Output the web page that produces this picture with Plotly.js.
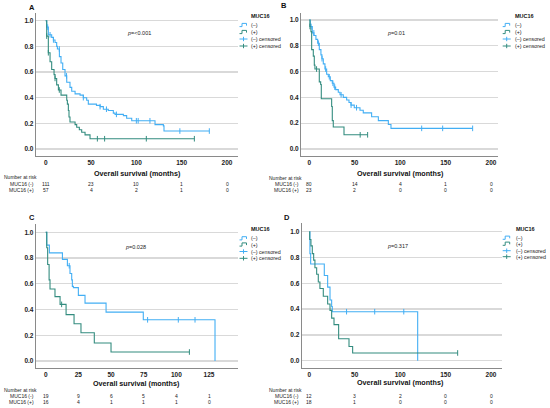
<!DOCTYPE html>
<html>
<head>
<meta charset="utf-8">
<script src="https://cdn.plot.ly/plotly-3.0.1.min.js"></script>
<style>html,body{margin:0;padding:0;background:#fff;}#chart{width:550px;height:408px;}</style>
</head>
<body>
<div id="chart"></div>
<script>
// ---------------- DATA ----------------
const groupTitle = "MUC16";
const legendLabels = ["(\u2013)", "(+)", "(\u2013) censored", "(+) censored"];
const riskRowLabels = ["MUC16 (-)", "MUC16 (+)"];
const riskHeader = "Number at risk";
const xTitle = "Overall survival (months)";
const panelLetters = ["A", "B", "C", "D"];
const pValues = ["=&lt;0.001", "=0.01", "=0.028", "=0.317"];

// Panel A
const aNegT = [0, 1.1, 2.9, 6.6, 8.5, 10.3, 12.1, 12.9, 15.1, 16.9, 18.8, 21.3, 23.2, 26.8, 28.7, 32.4, 37.9, 41.5, 45.2, 47, 56, 60, 63.6, 69, 74.6, 76.5, 85.7, 89.3, 94.9, 120.6, 129.8, 130.5, 180.5];
const aNegS = [1.0, 0.95, 0.89, 0.87, 0.85, 0.83, 0.80, 0.78, 0.72, 0.67, 0.62, 0.57, 0.52, 0.48, 0.45, 0.43, 0.42, 0.40, 0.38, 0.35, 0.34, 0.33, 0.31, 0.30, 0.28, 0.27, 0.26, 0.24, 0.22, 0.19, 0.18, 0.14, 0.14];
const aPosT = [0, 1.1, 2.9, 4.8, 6.6, 9.2, 10.3, 12.1, 14, 16.9, 23.2, 23.9, 25, 25.7, 26.8, 32.4, 34.2, 37.1, 39.7, 43.4, 48.9, 164];
const aPosS = [1.0, 0.88, 0.75, 0.68, 0.62, 0.58, 0.55, 0.50, 0.46, 0.42, 0.38, 0.35, 0.30, 0.25, 0.21, 0.19, 0.17, 0.15, 0.13, 0.11, 0.08, 0.08];
const aNegCens = [2.2, 4.8, 8.5, 15, 23, 41.5, 60, 67, 78, 100, 102, 115, 148, 180.5];
const aPosCens = [1.1, 2.9, 10.3, 15, 57, 65, 111, 164];
const aTicks = [0, 50, 100, 150, 200];
const aRiskNeg = [111, 23, 10, 1, 0];
const aRiskPos = [57, 4, 2, 1, 0];

// Panel B
const bNegT = [0, 1.1, 3.3, 5.1, 7.3, 9.2, 11, 12.8, 13.9, 15.4, 17.2, 19.1, 20.9, 23.1, 25.3, 27.2, 29, 31.9, 33.8, 37.4, 41.1, 43.7, 45.9, 49.5, 55.8, 59.4, 68.6, 76, 87, 89.9, 179.8];
const bNegS = [1.0, 0.95, 0.90, 0.88, 0.85, 0.82, 0.77, 0.73, 0.70, 0.66, 0.62, 0.58, 0.56, 0.53, 0.51, 0.48, 0.46, 0.44, 0.42, 0.40, 0.38, 0.36, 0.34, 0.32, 0.30, 0.28, 0.25, 0.22, 0.19, 0.16, 0.16];
const bPosT = [0, 0.7, 1.8, 2.6, 4.4, 5.5, 6.2, 11, 12.5, 13.2, 24.6, 25.3, 26.4, 38.2, 64.2];
const bPosS = [1.0, 0.95, 0.91, 0.77, 0.72, 0.65, 0.62, 0.52, 0.50, 0.39, 0.33, 0.22, 0.17, 0.11, 0.11];
const bNegCens = [2, 5, 10, 14, 18, 22, 26, 28, 35, 46, 52, 123.7, 146.8, 179.8];
const bPosCens = [0.7, 8, 56, 64.2];
const bTicks = [0, 50, 100, 150, 200];
const bRiskNeg = [80, 14, 4, 1, 0];
const bRiskPos = [23, 2, 0, 0, 0];

// Panel C
const cNegT = [0, 0.8, 2.8, 12.8, 16.6, 18.6, 19.9, 20.4, 21.2, 25, 30.1, 46.2, 74.7, 129.6];
const cNegS = [1.0, 0.90, 0.84, 0.79, 0.74, 0.68, 0.63, 0.58, 0.57, 0.51, 0.45, 0.38, 0.32, 0.0];
const cPosT = [0, 0.8, 1.5, 2.6, 3.3, 7.1, 11, 15.6, 21.7, 27, 37.2, 50, 110];
const cPosS = [1.0, 0.88, 0.75, 0.63, 0.56, 0.50, 0.44, 0.36, 0.29, 0.22, 0.14, 0.07, 0.07];
const cNegCens = [18, 78, 101.5, 114.3];
const cPosCens = [12.2, 110];
const cTicks = [0, 25, 50, 75, 100, 125];
const cRiskNeg = [19, 9, 6, 5, 4, 1];
const cRiskPos = [16, 4, 1, 1, 1, 0];

// Panel D
const dNegT = [0, 0.7, 1.5, 16.5, 20.2, 22.8, 24.6, 25.3, 119.3];
const dNegS = [1.0, 0.83, 0.75, 0.66, 0.57, 0.47, 0.42, 0.38, 0.0];
const dPosT = [0, 0.4, 1.8, 3.3, 4.8, 6.2, 8.1, 9.9, 11.7, 15.4, 20.2, 22.8, 24.6, 27.2, 32.3, 43.7, 47.7, 163.3];
const dPosS = [1.0, 0.94, 0.89, 0.83, 0.78, 0.72, 0.67, 0.61, 0.56, 0.50, 0.44, 0.39, 0.33, 0.28, 0.17, 0.11, 0.06, 0.06];
const dNegCens = [41, 72, 104];
const dPosCens = [163.3];
const dTicks = [0, 50, 100, 150, 200];
const dRiskNeg = [12, 3, 2, 0, 0];
const dRiskPos = [18, 1, 0, 0, 0];

const yTicks = [0, 0.2, 0.4, 0.6, 0.8, 1.0];

// ---------------- STYLE / LAYOUT ----------------
const W = 550, H = 408;
const NEG = "#42aef4", POS = "#338c7f";
const FONT = "Liberation Sans, Arial, sans-serif";
const px = v => v / W, py = v => 1 - v / H;

// pixel geometry of each panel (layout only)
const geo = [
  {l: 35.8, r: 238,   t: 13.3,  b: 156,   x0: 45.7,  xs: 0.9065, y0: 149,   ys: 128.3, lgX: 239.5, lgTxt: 249,   lgTitleY: 15.7, lgY: [25, 32, 39, 46],      risk: {hdrX: 2,   hdrY: 177, lblX: 36,  rows: [183.7, 190]},   letter: [32, 7],   p: [139, 33.3],   xt: [137.5, 173.3]},
  {l: 301,  r: 497.7, t: 13.3,  b: 156,   x0: 309.3, xs: 0.9085, y0: 149,   ys: 129,   lgX: 502.7, lgTxt: 513.3, lgTitleY: 15.7, lgY: [25, 32, 39, 46],      risk: {hdrX: 267, hdrY: 177.5, lblX: 301, rows: [183.7, 190.3]}, letter: [283.5, 6], p: [396.3, 33.3], xt: [400.8, 173.3]},
  {l: 35.8, r: 238,   t: 224,   b: 368,   x0: 45.7,  xs: 1.3064, y0: 361,   ys: 128.7, lgX: 239.5, lgTxt: 249,   lgTitleY: 229.3, lgY: [238.3, 244.5, 251.5, 258.3], risk: {hdrX: 2,   hdrY: 390, lblX: 36,  rows: [395.7, 401.7]}, letter: [31.7, 217.7], p: [135.8, 246.7], xt: [136.7, 383.3]},
  {l: 301.7,r: 501.7, t: 223.3, b: 367.7, x0: 309.3, xs: 0.9085, y0: 360.7, ys: 129,   lgX: 502.7, lgTxt: 514.3, lgTitleY: 229.3, lgY: [237.7, 243.7, 250.7, 256.7], risk: {hdrX: 267, hdrY: 390, lblX: 301, rows: [396, 401.7]}, letter: [287.3, 217.3], p: [397, 246], xt: [400.8, 382.7]}
];

const panels = [
  {negT: aNegT, negS: aNegS, posT: aPosT, posS: aPosS, negC: aNegCens, posC: aPosCens, ticks: aTicks, rNeg: aRiskNeg, rPos: aRiskPos},
  {negT: bNegT, negS: bNegS, posT: bPosT, posS: bPosS, negC: bNegCens, posC: bPosCens, ticks: bTicks, rNeg: bRiskNeg, rPos: bRiskPos},
  {negT: cNegT, negS: cNegS, posT: cPosT, posS: cPosS, negC: cNegCens, posC: cPosCens, ticks: cTicks, rNeg: cRiskNeg, rPos: cRiskPos},
  {negT: dNegT, negS: dNegS, posT: dPosT, posS: dPosS, negC: dNegCens, posC: dPosCens, ticks: dTicks, rNeg: dRiskNeg, rPos: dRiskPos}
];

function stepAt(T, S, t) {
  let v = S[0];
  for (let i = 0; i < T.length; i++) { if (T[i] <= t) v = S[i]; }
  return v;
}

const traces = [], annotations = [], shapes = [];
const layout = {
  width: W, height: H, margin: {l: 0, r: 0, t: 0, b: 0},
  paper_bgcolor: "#fff", plot_bgcolor: "rgba(0,0,0,0)",
  showlegend: false, font: {family: FONT, color: "#222"}
};

panels.forEach((p, i) => {
  const g = geo[i];
  const sfx = i === 0 ? "" : String(i + 1);
  const xa = "x" + sfx, ya = "y" + sfx;
  layout["xaxis" + sfx] = {
    domain: [px(g.l), px(g.r)],
    range: [(g.l - g.x0) / g.xs, (g.r - g.x0) / g.xs],
    anchor: ya, tickvals: p.ticks, ticktext: p.ticks.map(String),
    showgrid: false, zeroline: false, showline: true, linecolor: "#8a8a8a", linewidth: 1,
    ticks: "",
    tickfont: {family: FONT, size: 6.5, weight: 700, color: "#222"}, fixedrange: true
  };
  layout["yaxis" + sfx] = {
    domain: [py(g.b), py(g.t)],
    range: [(g.y0 - g.b) / g.ys, (g.y0 - g.t) / g.ys],
    anchor: xa, tickvals: yTicks, ticktext: yTicks.map(v => v.toFixed(1)),
    showgrid: true, gridcolor: "#d9d9d9", gridwidth: 1.3, zeroline: false,
    showline: true, linecolor: "#8a8a8a", linewidth: 1,
    ticks: "",
    tickfont: {family: FONT, size: 6.5, weight: 700, color: "#222"}, fixedrange: true
  };

  traces.push({x: p.negT, y: p.negS, xaxis: xa, yaxis: ya, mode: "lines", line: {shape: "hv", color: NEG, width: 1.1}, hoverinfo: "skip"});
  traces.push({x: p.posT, y: p.posS, xaxis: xa, yaxis: ya, mode: "lines", line: {shape: "hv", color: POS, width: 1.1}, hoverinfo: "skip"});
  traces.push({x: p.negC, y: p.negC.map(t => stepAt(p.negT, p.negS, t)), xaxis: xa, yaxis: ya, mode: "markers",
    marker: {symbol: "line-ns-open", size: 4, color: NEG, line: {color: NEG, width: 1}}, hoverinfo: "skip"});
  traces.push({x: p.posC, y: p.posC.map(t => stepAt(p.posT, p.posS, t)), xaxis: xa, yaxis: ya, mode: "markers",
    marker: {symbol: "line-ns-open", size: 4, color: POS, line: {color: POS, width: 1}}, hoverinfo: "skip"});

  // panel letter
  annotations.push({xref: "paper", yref: "paper", x: px(g.letter[0]), y: py(g.letter[1]), text: "<b>" + panelLetters[i] + "</b>",
    showarrow: false, xanchor: "center", yanchor: "middle", font: {family: FONT, size: 7.5, color: "#111"}});
  // p-value
  annotations.push({xref: "paper", yref: "paper", x: px(g.p[0]), y: py(g.p[1]), text: "<i>p</i>" + pValues[i],
    showarrow: false, xanchor: "center", yanchor: "middle", font: {family: FONT, size: 5.5, color: "#222"}});
  // x title
  annotations.push({xref: "paper", yref: "paper", x: px(g.xt[0]), y: py(g.xt[1]), text: "<b>" + xTitle + "</b>",
    showarrow: false, xanchor: "center", yanchor: "middle", font: {family: FONT, size: 7.2, color: "#111"}});
  // legend title
  annotations.push({xref: "paper", yref: "paper", x: px(g.lgTxt), y: py(g.lgTitleY), text: "<b>" + groupTitle + "</b>",
    showarrow: false, xanchor: "left", yanchor: "middle", font: {family: FONT, size: 5.5, color: "#111"}});
  // legend entries
  legendLabels.forEach((lab, k) => {
    const yc = g.lgY[k];
    annotations.push({xref: "paper", yref: "paper", x: px(g.lgTxt), y: py(yc), text: lab,
      showarrow: false, xanchor: "left", yanchor: "middle", font: {family: FONT, size: 5.3, color: "#222"}});
    const col = (k % 2 === 0) ? NEG : POS;
    const x0 = g.lgX;
    let path;
    if (k < 2) {
      path = `M${px(x0)},${py(yc + 1.6)} L${px(x0 + 2.5)},${py(yc + 1.6)} L${px(x0 + 2.5)},${py(yc - 1.6)} L${px(x0 + 7)},${py(yc - 1.6)} L${px(x0 + 7)},${py(yc + 0.6)}`;
    } else {
      path = `M${px(x0)},${py(yc)} L${px(x0 + 8)},${py(yc)} M${px(x0 + 4)},${py(yc - 2.2)} L${px(x0 + 4)},${py(yc + 2.2)}`;
    }
    shapes.push({type: "path", xref: "paper", yref: "paper", path: path, line: {color: col, width: 1}});
  });
  // risk table
  annotations.push({xref: "paper", yref: "paper", x: px(g.risk.hdrX), y: py(g.risk.hdrY), text: riskHeader,
    showarrow: false, xanchor: "left", yanchor: "middle", font: {family: FONT, size: 5, color: "#222"}});
  [p.rNeg, p.rPos].forEach((row, r) => {
    const yy = py(g.risk.rows[r]);
    annotations.push({xref: "paper", yref: "paper", x: px(g.risk.lblX), y: yy, text: riskRowLabels[r],
      showarrow: false, xanchor: "right", yanchor: "middle", font: {family: FONT, size: 5, color: "#222"}});
    row.forEach((v, j) => {
      annotations.push({xref: xa, yref: "paper", x: p.ticks[j], y: yy, text: String(v),
        showarrow: false, xanchor: "center", yanchor: "middle", font: {family: FONT, size: 5, color: "#222"}});
    });
  });
});

layout.annotations = annotations;
layout.shapes = shapes;

Plotly.newPlot("chart", traces, layout, {staticPlot: true, displayModeBar: false});
</script>
</body>
</html>
